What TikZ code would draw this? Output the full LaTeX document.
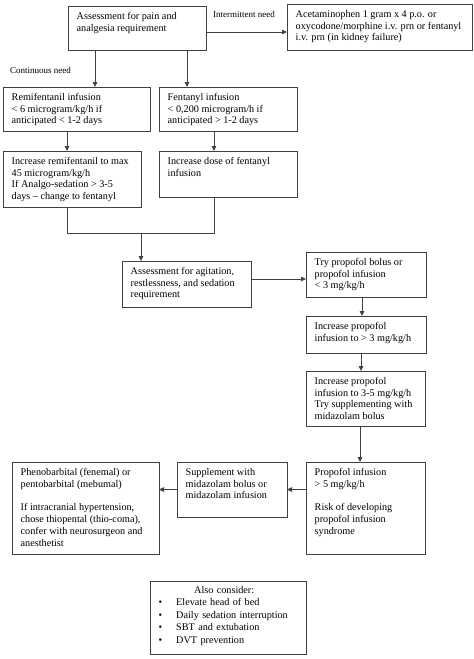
\documentclass[tikz,border=0pt]{standalone}
\usepackage{fontspec}
\setmainfont{Liberation Serif}
\usetikzlibrary{arrows.meta}
\tikzset{
  box/.style={draw=black!75, line width=0.8pt, rectangle, inner sep=0pt, outer sep=0pt},
  txt/.style={inner sep=0pt, align=left, font=\fontsize{10.2}{11.8}\selectfont},
  lbl/.style={inner sep=0pt, font=\fontsize{9}{10}\selectfont},
  conn/.style={draw=black!75, line width=0.8pt},
  arr/.style={conn, -{Triangle[length=5pt,width=4.5pt]}}
}
\newcommand\flowbox[6]{%
  \node[box, minimum width=#4pt, minimum height=#5pt, anchor=north west] (#1) at (#2,#3) {};
  \node[txt, anchor=north west] (#1t) at ([xshift=8.5pt,yshift=-4.8pt]#1.north west) {\strut #6};
}
\begin{document}
\begin{tikzpicture}[x=1pt,y=-1pt]
\useasboundingbox (0,0) rectangle (474,659);

\flowbox{A}{68}{6}{138}{44}{Assessment for pain and\\analgesia requirement}
\flowbox{B}{287}{4}{185}{46}{Acetaminophen 1 gram x 4 p.o. or\\oxycodone/morphine i.v. prn or fentanyl\\i.v. prn (in kidney failure)}
\flowbox{C}{3}{87}{147}{44}{Remifentanil infusion\\< 6 microgram/kg/h if\\anticipated < 1-2 days}
\flowbox{D}{159}{87}{138}{44}{Fentanyl infusion\\< 0,200 microgram/h if\\anticipated > 1-2 days}
\flowbox{E}{3}{151}{138}{56}{Increase remifentanil to max\\45 microgram/kg/h\\If Analgo-sedation > 3-5\\days -- change to fentanyl}
\flowbox{F}{159}{151}{138}{46}{Increase dose of fentanyl\\infusion}
\flowbox{G}{122}{261}{129}{46}{Assessment for agitation,\\restlessness, and sedation\\requirement}
\flowbox{H}{306}{252}{120}{45}{Try propofol bolus or\\propofol infusion\\< 3 mg/kg/h}
\flowbox{I}{306}{316}{120}{37}{Increase propofol\\infusion to > 3 mg/kg/h}
\flowbox{J}{306}{371}{119}{55}{Increase propofol\\infusion to 3-5 mg/kg/h\\Try supplementing with\\midazolam bolus}
\flowbox{K}{306}{462}{119}{92}{Propofol infusion\\> 5 mg/kg/h\\[11.8pt]Risk of developing\\propofol infusion\\syndrome}
\flowbox{L}{177}{462}{110}{55}{Supplement with\\midazolam bolus or\\midazolam infusion}
\flowbox{M}{12}{462}{147}{92}{Phenobarbital (fenemal) or\\pentobarbital (mebumal)\\[11.8pt]If intracranial hypertension,\\chose thiopental (thio-coma),\\confer with neurosurgeon and\\anesthetist}

\node[box, minimum width=156pt, minimum height=73pt, anchor=north west] (N) at (150,581) {};
\node[inner sep=0pt, anchor=north west, text width=142pt, font=\fontsize{10.2}{12.4}\selectfont] (Nt) at ([xshift=3pt,yshift=-3.6pt]N.north west)
{\centering\strut Also consider:\par
 \raggedright
 \hspace*{5.3pt}\makebox[17.7pt][l]{\textbullet}Elevate head of bed\par
 \hspace*{5.3pt}\makebox[17.7pt][l]{\textbullet}Daily sedation interruption\par
 \hspace*{5.3pt}\makebox[17.7pt][l]{\textbullet}SBT and extubation\par
 \hspace*{5.3pt}\makebox[17.7pt][l]{\textbullet}DVT prevention\par};

\node[lbl, anchor=west] (lint) at (213,14) {Intermittent need};
\node[lbl, anchor=west] (lcont) at (10,70) {Continuous need};

% connectors
\draw[arr] ([yshift=-4pt]A.east) -- ([yshift=-5pt]B.west);
\coordinate (a1) at ([xshift=27pt]A.south west);
\coordinate (a2) at ([xshift=119pt]A.south west);
\draw[arr] (a1) -- (a1 |- C.north);
\draw[arr] (a2) -- (a2 |- D.north);
\coordinate (c1) at ([xshift=64pt]C.south west);
\draw[arr] (c1) -- (c1 |- E.north);
\coordinate (d1) at ([xshift=55pt]D.south west);
\draw[arr] (d1) -- (d1 |- F.north);
\coordinate (m1) at (67,233);
\coordinate (m2) at (214,233);
\coordinate (mj) at (141,233);
\draw[conn] (m1 |- E.south) -- (m1) -- (m2) -- (m2 |- F.south);
\draw[arr] (mj) -- (mj |- G.north);
\coordinate (g1) at ([yshift=5pt]G.east);
\draw[arr] (g1) -- (g1 -| H.west);
\coordinate (h1) at ([xshift=-4pt]H.south);
\draw[arr] (h1) -- (h1 |- I.north);
\coordinate (i1) at ([xshift=-5pt]I.south);
\draw[arr] (i1) -- (i1 |- J.north);
\coordinate (j1) at ([xshift=-5.5pt]J.south);
\draw[arr] (j1) -- (j1 |- K.north);
\draw[arr] (K.west |- L.east) -- (L.east);
\draw[arr] (L.west) -- (M.east |- L.west);
\end{tikzpicture}
\end{document}
